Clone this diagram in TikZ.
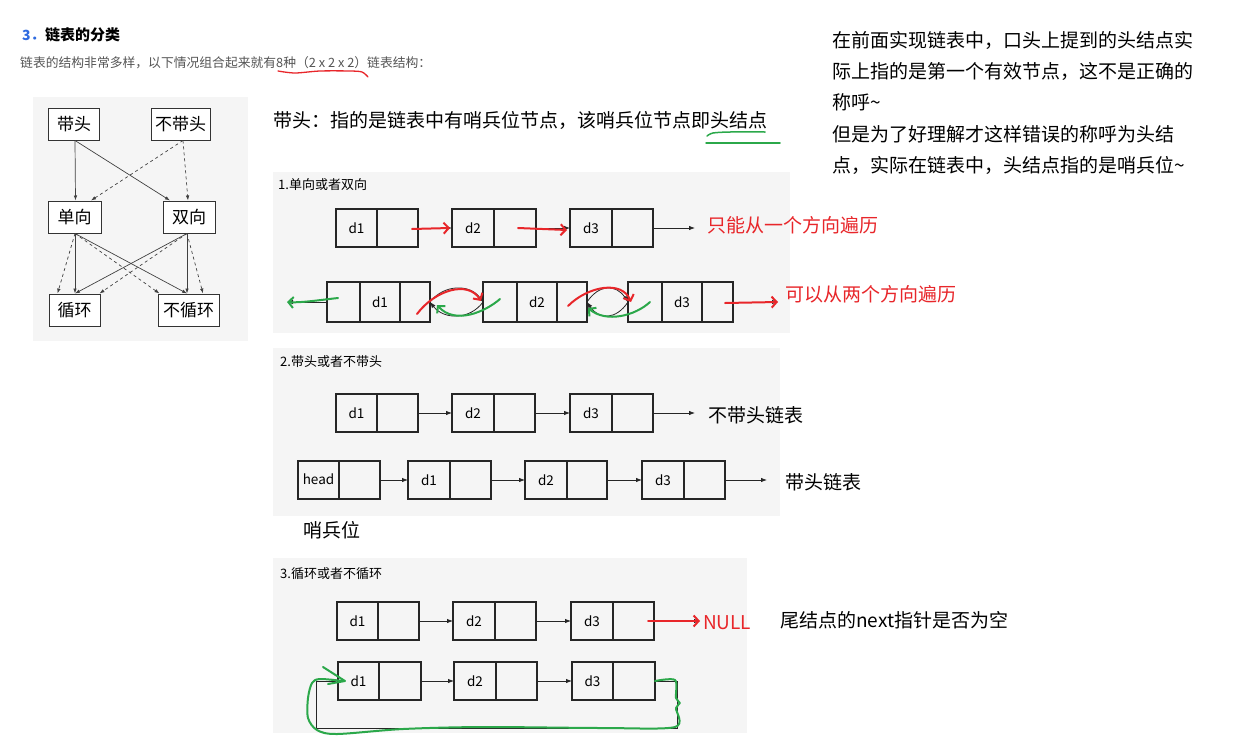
\documentclass[tikz,border=0pt]{standalone}
\usepackage{fontspec}
\setmainfont{Noto Sans CJK SC}
\usetikzlibrary{arrows.meta,calc}
\definecolor{penred}{HTML}{E8262A}
\definecolor{pengreen}{HTML}{2BA84A}
\definecolor{panel}{HTML}{F5F5F5}
\definecolor{headblue}{HTML}{2F6BE0}
\definecolor{subgray}{HTML}{555555}
\newcommand\llbox[6]{%
  \node[cell, minimum width={#3-#2}] (#1d) at (#2,#5) {#6};
  \node[cell, minimum width={#4-#3}] (#1n) at (#3,#5) {};%
}
\newcommand\dlbox[7]{%
  \node[cell, minimum height=40pt, minimum width={#3-#2}] (#1p) at (#2,#6) {};
  \node[cell, minimum height=40pt, minimum width={#4-#3}] (#1d) at (#3,#6) {#7};
  \node[cell, minimum height=40pt, minimum width={#5-#4}] (#1n) at (#4,#6) {};%
}
\begin{document}
\begin{tikzpicture}[x=1pt,y=-1pt,
  cell/.style={draw=black!85, line width=1.3pt, inner sep=0pt, outer sep=0pt,
    minimum height=38pt, anchor=west, font=\fontsize{13.5}{13.5}\selectfont},
  ar/.style={-{Latex[length=6pt,width=4.5pt]}, line width=0.8pt, draw=black!85},
  redpen/.style={draw=penred, line width=2pt, line cap=round, line join=round},
  greenpen/.style={draw=pengreen, line width=2pt, line cap=round, line join=round},
  barb/.style={-{Straight Barb[length=5pt,width=11pt]}},
  txt/.style={inner sep=0pt, anchor=west, font=\fontsize{19}{19}\selectfont},
  small/.style={inner sep=0pt, anchor=west, font=\fontsize{13}{13}\selectfont},
  tnode/.style={draw=black!80, line width=1pt, fill=white, inner sep=0pt,
    minimum height=32pt, font=\fontsize{17}{17}\selectfont},
  tarr/.style={-{Latex[length=5pt,width=3.5pt]}, line width=0.7pt, draw=black!75},
  tdash/.style={tarr, dashed}
]
\useasboundingbox (0,0) rectangle (1246,755);
\fill[white] (0,0) rectangle (1246,755);

% ---------- header ----------
\node[small, font=\fontsize{14}{14}\selectfont\bfseries, text=headblue] (hnum) at (22,35) {3．};
\node[small, font=\fontsize{15}{15}\selectfont\bfseries] (htitle) at (45,35) {链表的分类};
\node[small, text=subgray, font=\fontsize{12.8}{13}\selectfont] (hsub) at (20,63)
  {链表的结构非常多样，以下情况组合起来就有8种（2 x 2 x 2）链表结构：};
\draw[redpen, line width=1.3pt] plot[smooth] coordinates {(278,71) (295,73) (320,71) (350,71) (362,72) (368,77)};

% ---------- left tree ----------
\fill[panel] (33,97) rectangle (248,341);
\node[tnode, minimum width=51pt] (dt) at (74,124) {带头};
\node[tnode, minimum width=59pt] (bdt) at (180.5,124) {不带头};
\node[tnode, minimum width=53pt] (dx) at (74.5,217) {单向};
\node[tnode, minimum width=52pt] (sx) at (189,217) {双向};
\node[tnode, minimum width=51pt] (xh) at (74.5,310) {循环};
\node[tnode, minimum width=61pt] (bxh) at (188.5,310) {不循环};
\draw[tarr] ([xshift=1pt]dt.south) -- ([xshift=1pt]dx.north);
\draw[tarr] ([xshift=1pt]dt.south) -- ([xshift=-19pt]sx.north);
\draw[tdash] ([xshift=2.5pt]bdt.south) -- ([xshift=16.5pt]dx.north);
\draw[tdash] ([xshift=2.5pt]bdt.south) -- ([xshift=-1pt]sx.north);
\draw[tarr] ([xshift=0.5pt]dx.south) -- ([xshift=0.5pt]xh.north);
\draw[tdash] ([xshift=0.5pt]dx.south) -- ([xshift=-17pt]xh.north);
\draw[tarr] ([xshift=0.5pt]dx.south) -- ([xshift=-1.5pt]bxh.north);
\draw[tdash] ([xshift=0.5pt]dx.south) -- ([xshift=-29pt]bxh.north);
\draw[tarr] ([xshift=-2pt]sx.south) -- ([xshift=0.5pt]xh.north);
\draw[tdash] ([xshift=-2pt]sx.south) -- ([xshift=25pt]xh.north);
\draw[tarr] ([xshift=-2pt]sx.south) -- ([xshift=-1.5pt]bxh.north);
\draw[tdash] ([xshift=-2pt]sx.south) -- ([xshift=14.5pt]bxh.north);

% ---------- head explanation ----------
\node[txt] (hexp) at (273,120) {带头：指的是链表中有哨兵位节点，该哨兵位节点即头结点};
\draw[greenpen, line width=1.5pt] plot[smooth] coordinates {(707,136) (713,133) (730,132) (765,132)};
\draw[greenpen, line width=1.5pt] (706,143) -- (780,143);

% ---------- right text ----------
\node[txt] (rt1) at (832,40) {在前面实现链表中，口头上提到的头结点实};
\node[txt] (rt2) at (832,71) {际上指的是第一个有效节点，这不是正确的};
\node[txt] (rt3) at (832,102) {称呼\textasciitilde};
\node[txt] (rt4) at (832,134) {但是为了好理解才这样错误的称呼为头结};
\node[txt] (rt5) at (832,165) {点，实际在链表中，头结点指的是哨兵位\textasciitilde};

% ---------- section 1 ----------
\fill[panel] (273,172) rectangle (790,333);
\node[small] (s1title) at (278,185) {1.单向或者双向};
\llbox{s1a}{336}{377}{418}{228}{d1}
\llbox{s1b}{452}{494}{536}{228}{d2}
\llbox{s1c}{570}{612}{653}{228}{d3}
\coordinate (s1end) at (695,228);
\draw[ar] (s1an.east) -- (s1bd.west);
\draw[ar] (s1bn.east) -- (s1cd.west);
\draw[ar] (s1cn.east) -- (s1end);
\coordinate (r1s) at (412,229); \coordinate (r1e) at (450,228);
\coordinate (r2s) at (518,228); \coordinate (r2e) at (567,230);
\draw[redpen, barb] (r1s) -- (r1e);
\draw[redpen, barb] (r2s) -- (r2e);
\node[txt, text=penred] (t1) at (707,225) {只能从一个方向遍历};

\dlbox{s1d}{327}{360}{400}{430}{302}{d1}
\dlbox{s1e}{483}{517}{557}{587}{302}{d2}
\dlbox{s1f}{628}{662}{702}{733}{302}{d3}
\coordinate (s1left) at (287,302);
\coordinate (s1right) at (778,302);
\draw[ar] (s1dp.west) -- (s1left);
\draw[ar] (s1fn.east) -- (s1right);
\draw[ar] (s1dn.east) .. controls (444,284) and (470,284) .. (s1ep.west);
\draw[ar] (s1ep.west) .. controls (470,320) and (444,320) .. (s1dn.east);
\draw[ar] (s1en.east) .. controls (599,284) and (616,284) .. (s1fp.west);
\draw[ar] (s1fp.west) .. controls (616,320) and (599,320) .. (s1en.east);
% pen strokes
\coordinate (g0s) at (338,298);
\draw[greenpen, barb] (g0s) .. controls (320,300) and (300,303) .. (s1left);
\coordinate (ra1) at (417,314); \coordinate (ra2) at (481,301);
\draw[redpen, barb] (ra1) .. controls (435,290) and (468,280) .. (ra2);
\coordinate (ga1) at (500,299); \coordinate (ga2) at (437,305);
\draw[greenpen, barb] (ga1) .. controls (485,312) and (455,325) .. (ga2);
\coordinate (rb1) at (568,306); \coordinate (rb2) at (631,302);
\draw[redpen, barb] (rb1) .. controls (588,286) and (622,280) .. (rb2);
\coordinate (gb1) at (650,302); \coordinate (gb2) at (588,308);
\draw[greenpen, barb] (gb1) .. controls (635,316) and (606,323) .. (gb2);
\coordinate (rc1) at (725,303);
\draw[redpen, barb] (rc1) -- (s1right);
\node[txt, text=penred] (t2) at (785,294) {可以从两个方向遍历};

% ---------- section 2 ----------
\fill[panel] (273,348) rectangle (780,516);
\node[small] (s2title) at (280,362) {2.带头或者不带头};
\llbox{s2a}{336}{377}{418}{413}{d1}
\llbox{s2b}{452}{494}{535}{413}{d2}
\llbox{s2c}{570}{612}{653}{413}{d3}
\coordinate (s2end) at (695,413);
\draw[ar] (s2an.east) -- (s2bd.west);
\draw[ar] (s2bn.east) -- (s2cd.west);
\draw[ar] (s2cn.east) -- (s2end);
\node[txt] (t3) at (708,415) {不带头链表};
\llbox{s2h}{298}{339}{380}{480}{\raisebox{2pt}{head}}
\llbox{s2d}{408}{450}{491}{480}{d1}
\llbox{s2e}{525}{567}{607}{480}{d2}
\llbox{s2f}{642}{684}{725}{480}{d3}
\coordinate (s2end2) at (767,480);
\draw[ar] (s2hn.east) -- (s2dd.west);
\draw[ar] (s2dn.east) -- (s2ed.west);
\draw[ar] (s2en.east) -- (s2fd.west);
\draw[ar] (s2fn.east) -- (s2end2);
\node[txt] (t4) at (785,482) {带头链表};
\node[txt] (t5) at (303,530) {哨兵位};

% ---------- section 3 ----------
\fill[panel] (273,558) rectangle (747,733);
\node[small] (s3title) at (280,574) {3.循环或者不循环};
\llbox{s3a}{337}{378}{419}{621}{d1}
\llbox{s3b}{453}{495}{536}{621}{d2}
\llbox{s3c}{571}{613}{654}{621}{d3}
\coordinate (s3end) at (700,621);
\draw[ar] (s3an.east) -- (s3bd.west);
\draw[ar] (s3bn.east) -- (s3cd.west);
\draw[ar] (s3cn.east) -- (s3end);
\coordinate (rn1) at (648,621);
\draw[redpen, barb] (rn1) -- (s3end);
\node[txt, text=penred] (tnull) at (703,623) {NULL};
\node[txt] (t6) at (780,620) {尾结点的next指针是否为空};

\llbox{s3d}{338}{379}{421}{681}{d1}
\llbox{s3e}{454}{496}{537}{681}{d2}
\llbox{s3f}{572}{613}{655}{681}{d3}
\draw[ar] (s3dn.east) -- (s3ed.west);
\draw[ar] (s3en.east) -- (s3fd.west);
\coordinate (lp1) at (677,681);
\coordinate (lp2) at (677,728);
\coordinate (lp3) at (316,728);
\coordinate (lp4) at (316,681);
\draw[ar] (s3fn.east) -- (lp1) -- (lp2) -- (lp3) -- (lp4) -- (s3dd.west);
\draw[greenpen] plot[smooth, tension=0.5] coordinates {(655,681) (675,680) (676,698) (680,703) (676,708) (675,727) (603,728) (483,727) (403,729) (337,734) (317,730) (308,718) (308,698) (312,683) (320,679) (343,681)};
\draw[greenpen] (323,667) -- (345,681) -- (328,684);
\end{tikzpicture}
\end{document}
